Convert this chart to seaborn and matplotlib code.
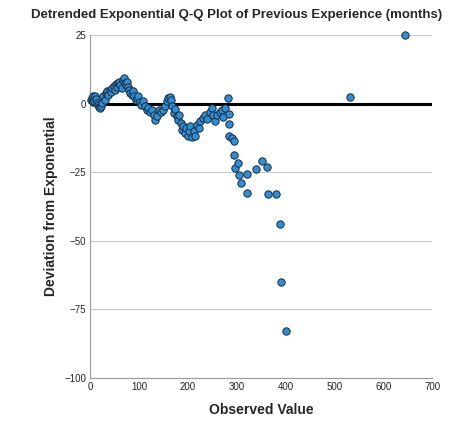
import matplotlib
matplotlib.use("Agg")
import matplotlib.pyplot as plt
import seaborn as sns
import pandas as pd

observed = [1, 3, 5, 7, 9, 10, 12, 14, 16, 18, 20, 22, 24, 27, 30, 32, 35, 37, 40, 43, 45, 48, 50, 53, 55, 58, 60, 62, 65, 67, 70, 72, 74, 76, 78, 80, 82, 85, 88, 90, 93, 96, 99, 102, 105, 109, 112, 116, 119, 123, 127, 130, 133, 136, 140, 145, 150, 153, 157, 160, 163, 166, 168, 171, 174, 177, 180, 182, 185, 188, 191, 194, 197, 200, 203, 205, 208, 212, 215, 218, 222, 225, 230, 235, 240, 245, 250, 252, 256, 260, 265, 269, 271, 275, 282, 284, 284, 284, 291, 295, 295, 296, 303, 305, 309, 321, 321, 340, 352, 362, 364, 381, 389, 391, 401, 532, 645]
deviation = [1.5, 2.1, 0.5, 2.8, 1.0, 2.7, 1.8, 0.2, -0.5, -1.2, -1.6, -0.8, 0.3, 2.7, 1.5, 3.8, 4.5, 3.2, 5.0, 4.2, 5.7, 6.5, 5.0, 7.0, 6.2, 7.5, 8.0, 6.8, 5.7, 8.5, 9.3, 7.5, 6.9, 8.0, 6.0, 5.0, 4.0, 3.3, 4.5, 2.7, 1.5, 2.0, 2.7, 0.5, -0.4, 0.8, -1.0, -2.2, -1.5, -3.0, -2.2, -4.0, -5.8, -4.5, -2.2, -3.0, -2.2, -1.0, 1.0, 2.1, 2.5, 1.5, -1.0, -3.4, -2.0, -4.5, -5.8, -4.0, -7.0, -9.5, -8.0, -10.7, -9.0, -11.7, -10.0, -8.0, -12.0, -10.0, -11.7, -7.7, -9.0, -6.4, -5.2, -4.0, -5.5, -3.0, -1.6, -4.0, -6.4, -4.0, -3.0, -2.2, -4.9, -1.5, 2.2, -3.6, -7.3, -11.7, -12.4, -13.5, -18.6, -23.3, -21.5, -25.9, -28.8, -32.4, -25.5, -24.0, -20.8, -23.0, -32.8, -32.8, -44.0, -65.0, -82.7, 2.5, 25.0]

df = pd.DataFrame({"Observed Value": observed, "Deviation": deviation})

sns.set_style("white")
plt.rcParams['font.family'] = ['Liberation Sans', 'DejaVu Sans']
fig, ax = plt.subplots(figsize=(4.74, 4.38), dpi=100)
fig.subplots_adjust(left=0.19, right=0.912, top=0.92, bottom=0.137)

for yv in [25, -25, -50, -75, -100]:
    ax.axhline(yv, color="#c8c8c8", lw=0.8, zorder=0)
ax.axhline(0, color="black", lw=2.2, zorder=1)

sns.scatterplot(data=df, x="Observed Value", y="Deviation", ax=ax, s=28,
                color="#2c8fd8", edgecolor="#1a2a3a", linewidth=0.7, zorder=3, clip_on=False)

ax.set_xlim(0, 700)
ax.set_ylim(-100, 25)
ax.set_xticks(range(0, 701, 100))
ax.set_yticks([25, 0, -25, -50, -75, -100])
ax.tick_params(labelsize=7, length=0, pad=3)
for s in ["top", "right"]:
    ax.spines[s].set_visible(False)
for s in ["left", "bottom"]:
    ax.spines[s].set_color("#9a9a9a")
ax.set_xlabel("Observed Value", fontsize=10, fontweight="bold", labelpad=8)
ax.set_ylabel("Deviation from Exponential", fontsize=10, fontweight="bold")
fig.text(0.5, 0.965, "Detrended Exponential Q-Q Plot of Previous Experience (months)",
         ha="center", va="center", fontsize=9.5, fontweight="bold")
fig.savefig("out.png", dpi=100)
